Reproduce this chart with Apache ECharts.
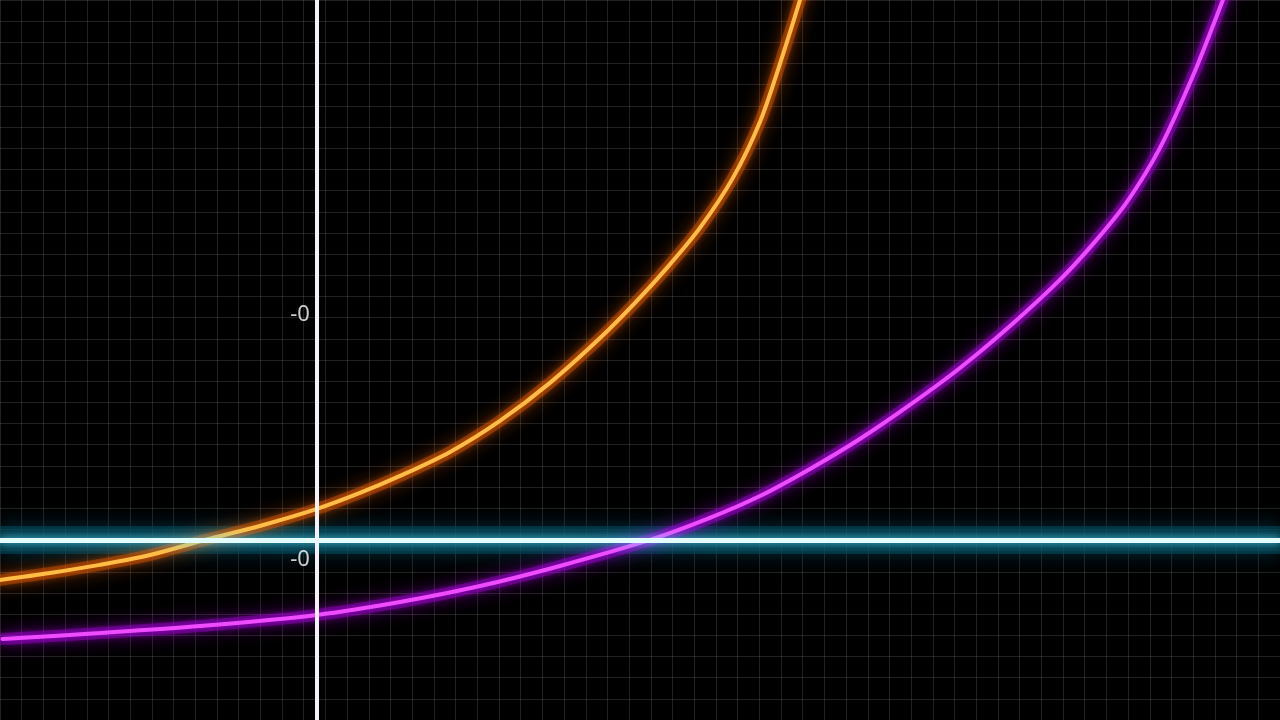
<!DOCTYPE html>
<html>
<head>
<meta charset="utf-8">
<script src="https://cdn.jsdelivr.net/npm/echarts@6/dist/echarts.min.js"></script>
<style>
html,body{margin:0;padding:0;background:#000;}
#c{width:1280px;height:720px;}
</style>
</head>
<body>
<div id="c"></div>
<script>
// Data (x: grid cells from the vertical axis, y: grid cells from the cyan line)
const orangeCurve = [
  [-14.31, -1.83], [-12.05, -1.51], [-9.80, -1.14], [-7.54, -0.69], [-5.06, 0],
  [-2.58, 0.64], [0, 1.42], [1.94, 2.15], [3.75, 2.93], [6.01, 4.03],
  [8.26, 5.45], [10.52, 7.19], [12.78, 9.24], [14.36, 10.85], [15.80, 12.45],
  [17.29, 14.28], [18.78, 16.57], [20.00, 19.13], [20.90, 21.78], [21.81, 24.71],
  [22.26, 26.27]
];
const magentaCurve = [
  [-14.2, -4.53], [-9.80, -4.26], [-5.28, -3.94], [0, -3.43], [3.75, -2.84],
  [7.36, -2.11], [10.97, -1.19], [15.03, 0], [17.74, 1.01], [20.00, 2.01],
  [22.26, 3.25], [24.51, 4.62], [26.77, 6.18], [29.03, 7.87], [31.29, 9.79],
  [33.54, 11.90], [35.12, 13.64], [36.57, 15.47], [38.06, 17.94], [39.55, 21.24],
  [40.90, 24.71], [41.44, 26.27]
];
const tickLabels = ['-0', '-0'];
const tickLabelY = [10.3, -0.92];
const xRange = [-14.31, 43.48];
const yRange = [-8.24, 24.71];
const baseLine = [[xRange[0], 0], [xRange[1], 0]];
const gridCellsX = 59;
const gridCellsY = 34;

const chart = echarts.init(document.getElementById('c'), null, {renderer: 'canvas'});

const labelData = tickLabels.map((t, i) => ({name: t, value: [0, tickLabelY[i]]}));

function off() { return {show: false}; }
const gridColor = 'rgba(255,255,255,0.13)';

function curve(data, core, glow, glowSoft) {
  return [
    {
      type: 'line', xAxisIndex: 0, yAxisIndex: 0, data: data,
      smooth: 0.3, showSymbol: false, symbol: 'none', z: 2,
      silent: true,
      lineStyle: {color: glowSoft, width: 12, cap: 'round',
        shadowBlur: 18, shadowColor: glow}
    },
    {
      type: 'line', xAxisIndex: 0, yAxisIndex: 0, data: data,
      smooth: 0.3, showSymbol: false, symbol: 'none', z: 3,
      silent: true,
      lineStyle: {color: core, width: 4, cap: 'round',
        shadowBlur: 8, shadowColor: glow}
    }
  ];
}

chart.setOption({
  backgroundColor: '#000000',
  animation: false,
  grid: [
    {left: 0, right: 0, top: 0, bottom: 0, containLabel: false},
    {left: -12.15, top: -11.15, width: 1306.85, height: 742.9, containLabel: false}
  ],
  xAxis: [
    {
      type: 'value', gridIndex: 0, min: xRange[0], max: xRange[1], z: 5,
      axisLabel: off(), axisTick: off(), splitLine: off(), minorSplitLine: off(), minorTick: off(),
      axisLine: {show: true, onZero: true,
        lineStyle: {color: '#e2fcff', width: 5, shadowBlur: 10, shadowColor: 'rgba(90,225,255,1)'}}
    },
    {
      type: 'value', gridIndex: 1, min: 0, max: gridCellsX, interval: 1,
      axisLabel: off(), axisTick: off(), axisLine: off(), minorSplitLine: off(), minorTick: off(),
      splitLine: {show: true, lineStyle: {color: gridColor, width: 1}}
    }
  ],
  yAxis: [
    {
      type: 'value', gridIndex: 0, min: yRange[0], max: yRange[1], z: 6,
      axisLabel: off(), axisTick: off(), splitLine: off(), minorSplitLine: off(), minorTick: off(),
      axisLine: {show: true, onZero: true,
        lineStyle: {color: '#f4f1f8', width: 4}}
    },
    {
      type: 'value', gridIndex: 1, min: 0, max: gridCellsY, interval: 1,
      axisLabel: off(), axisTick: off(), axisLine: off(), minorSplitLine: off(), minorTick: off(),
      splitLine: {show: true, lineStyle: {color: gridColor, width: 1}}
    }
  ],
  series: [
    {
      type: 'line', xAxisIndex: 0, yAxisIndex: 0, data: baseLine,
      showSymbol: false, symbol: 'none', z: 1, silent: true,
      lineStyle: {color: 'rgba(0,70,90,0.6)', width: 28, shadowBlur: 20, shadowColor: 'rgba(0,85,110,0.9)'}
    },
    ...curve(orangeCurve, '#ffbd45', 'rgba(255,105,0,1)', 'rgba(230,90,0,0.38)'),
    ...curve(magentaCurve, '#f04cff', 'rgba(185,0,240,1)', 'rgba(165,0,220,0.38)'),
    {
      type: 'scatter', xAxisIndex: 0, yAxisIndex: 0, data: labelData,
      symbolSize: 0, z: 7, silent: true,
      label: {show: true, position: 'left', distance: 7, formatter: '{b}',
        color: '#ffffff', fontSize: 22, fontFamily: 'Noto Sans'}
    }
  ]
});
</script>
</body>
</html>
